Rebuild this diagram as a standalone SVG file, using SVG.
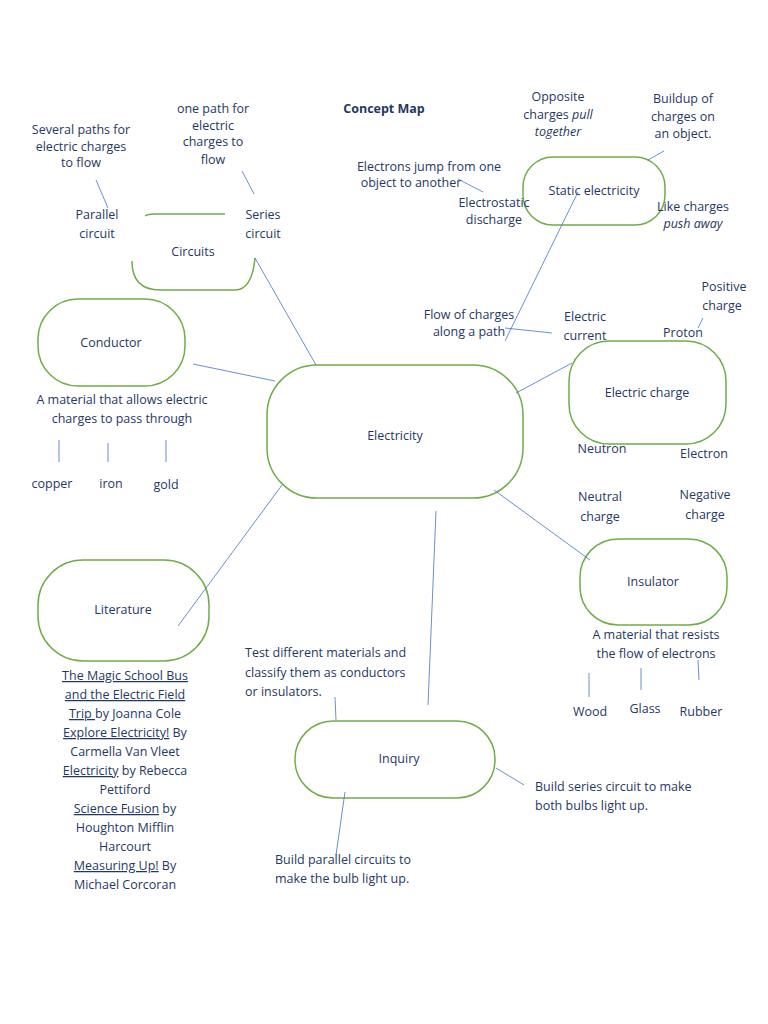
<svg xmlns="http://www.w3.org/2000/svg" width="768" height="1024" viewBox="0 0 768 1024">
<style>
text{font-family:"Open Sans","Liberation Sans",sans-serif;fill:#1f3864;font-size:12.5px;text-anchor:middle}
.n{fill:none;stroke:#70ad47;stroke-width:1.5}
.c line{stroke:#4472c4;stroke-width:0.8}
.u{text-decoration:underline}
.s{text-anchor:start}
</style>
<rect width="768" height="1024" fill="#fff"/>
<text x="384" y="113" font-size="18" font-weight="bold">Concept Map</text>
<g id="circuits"><path class="n" d="M145,216 Q148,214 155,214 L225,214 M132,261 Q132,290 160,290 L235,290 Q252,290 255,258"/><text x="193" y="256">Circuits</text></g>
<g id="conductor"><rect class="n" x="38" y="299" width="147" height="87" rx="40"/><text x="111" y="347">Conductor</text></g>
<g id="electricity"><rect class="n" x="267" y="365" width="256" height="133" rx="50"/><text x="395" y="440" font-size="24">Electricity</text></g>
<g id="static"><rect class="n" x="523" y="157" width="142" height="68" rx="30"/><text x="594" y="195">Static electricity</text></g>
<g id="charge"><rect class="n" x="569" y="341" width="157" height="103" rx="40"/><text x="647" y="397">Electric charge</text></g>
<g id="insulator"><rect class="n" x="580" y="539" width="147" height="86" rx="38"/><text x="653" y="586">Insulator</text></g>
<g id="literature"><rect class="n" x="38" y="560" width="171" height="101" rx="45"/><text x="123" y="614">Literature</text></g>
<g id="inquiry"><rect class="n" x="295" y="721" width="200" height="77" rx="38"/><text x="399" y="763">Inquiry</text></g>
<g class="c">
<line x1="96" y1="180" x2="108" y2="208"/><line x1="242" y1="171" x2="254" y2="194"/>
<line x1="255" y1="258" x2="316" y2="365"/><line x1="193" y1="364" x2="275" y2="381"/>
<line x1="516" y1="393" x2="572" y2="363"/><line x1="505" y1="341" x2="578" y2="192"/>
<line x1="505" y1="328" x2="552" y2="333"/><line x1="458" y1="179" x2="483" y2="192"/>
<line x1="664" y1="151" x2="648" y2="160"/><line x1="703" y1="318" x2="698" y2="328"/>
<line x1="494" y1="490" x2="590" y2="560"/><line x1="282" y1="485" x2="178" y2="626"/>
<line x1="436" y1="511" x2="428" y2="705"/><line x1="335" y1="697" x2="336" y2="720"/>
<line x1="345" y1="792" x2="336" y2="855"/><line x1="496" y1="768" x2="524" y2="785"/>
<line x1="59" y1="440" x2="59" y2="462"/><line x1="108" y1="443" x2="108" y2="462"/><line x1="166" y1="440" x2="166" y2="462"/>
<line x1="589" y1="673" x2="589" y2="697"/><line x1="641" y1="668" x2="641" y2="690"/><line x1="698" y1="660" x2="699" y2="680"/>
</g>
<g font-size="11">
<text x="81" y="134" font-size="11">Several paths for</text><text x="81" y="151" font-size="11">electric charges</text><text x="81" y="167" font-size="11">to flow</text>
<text x="213" y="113" font-size="11">one path for</text><text x="213" y="130" font-size="11">electric</text><text x="213" y="146" font-size="11">charges to</text><text x="213" y="164" font-size="11">flow</text>
</g>
<text x="97" y="219">Parallel</text><text x="97" y="238">circuit</text>
<text x="263" y="219">Series</text><text x="263" y="238">circuit</text>
<text x="558" y="101" font-size="12">Opposite</text><text x="558" y="119" font-size="12">charges <tspan font-style="italic">pull</tspan></text><text x="558" y="136" font-size="12" font-style="italic">together</text>
<text x="683" y="103" font-size="12">Buildup of</text><text x="683" y="121" font-size="12">charges on</text><text x="683" y="138" font-size="12">an object.</text>
<text x="429" y="171" font-size="11.5">Electrons jump from one</text><text x="411" y="187" font-size="11.5">object to another</text>
<text x="494" y="207">Electrostatic</text><text x="494" y="224">discharge</text>
<text x="693" y="211" font-size="12">Like charges</text><text x="693" y="228" font-size="12" font-style="italic">push away</text>
<text x="724" y="291">Positive</text><text x="722" y="310">charge</text>
<text x="469" y="319">Flow of charges</text><text x="469" y="336">along a path</text>
<text x="585" y="321">Electric</text><text x="585" y="340">current</text>
<text x="683" y="337">Proton</text>
<text x="602" y="453">Neutron</text><text x="704" y="458">Electron</text>
<text x="600" y="501">Neutral</text><text x="600" y="521">charge</text>
<text x="705" y="499">Negative</text><text x="705" y="519">charge</text>
<text x="122" y="404">A material that allows electric</text><text x="122" y="423">charges to pass through</text>
<text x="52" y="488">copper</text><text x="111" y="488">iron</text><text x="166" y="489">gold</text>
<text x="656" y="639">A material that resists</text><text x="656" y="658">the flow of electrons</text>
<text x="590" y="716">Wood</text><text x="645" y="713">Glass</text><text x="701" y="716">Rubber</text>
<text class="s" x="245" y="657">Test different materials and</text><text class="s" x="245" y="677">classify them as conductors</text><text class="s" x="245" y="696">or insulators.</text>
<text class="s" x="535" y="791">Build series circuit to make</text><text class="s" x="535" y="810">both bulbs light up.</text>
<text class="s" x="275" y="864">Build parallel circuits to</text><text class="s" x="275" y="883">make the bulb light up.</text>
<text x="125" y="680" class="u">The Magic School Bus</text>
<text x="125" y="699" class="u">and the Electric Field</text>
<text x="125" y="718"><tspan class="u">Trip </tspan>by Joanna Cole</text>
<text x="125" y="737"><tspan class="u">Explore Electricity!</tspan> By</text>
<text x="125" y="756">Carmella Van Vleet</text>
<text x="125" y="775"><tspan class="u">Electricity</tspan> by Rebecca</text>
<text x="125" y="794">Pettiford</text>
<text x="125" y="813"><tspan class="u">Science Fusion</tspan> by</text>
<text x="125" y="832">Houghton Mifflin</text>
<text x="125" y="851">Harcourt</text>
<text x="125" y="870"><tspan class="u">Measuring Up!</tspan> By</text>
<text x="125" y="889">Michael Corcoran</text>
</svg>
